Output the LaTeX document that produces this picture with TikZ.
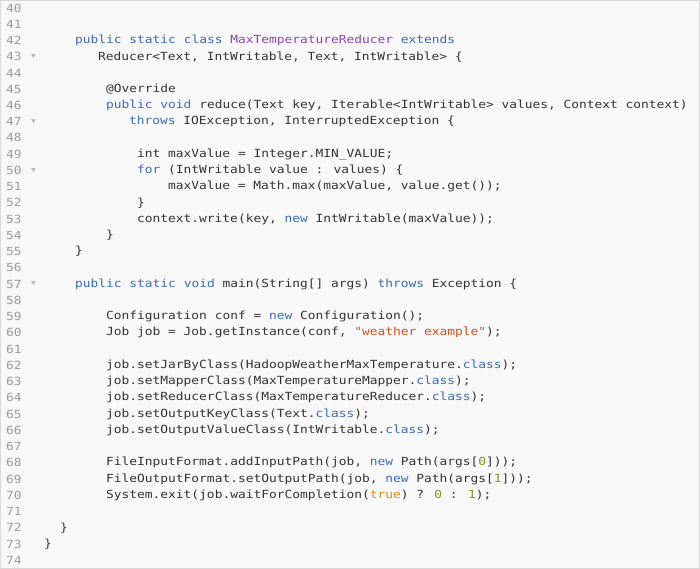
\documentclass[tikz,border=0pt]{standalone}
\usepackage{fontspec}
\newfontfamily\codefont[FakeStretch=1.15]{DejaVu Sans Mono}
\definecolor{bgc}{HTML}{F8F8F8}
\definecolor{bdc}{HTML}{D8D8D8}
\definecolor{numc}{HTML}{9A9A9A}
\definecolor{txtc}{HTML}{333333}
\definecolor{kwc}{HTML}{3A6BB5}
\definecolor{clc}{HTML}{8E44AD}
\definecolor{strc}{HTML}{D1501E}
\definecolor{boolc}{HTML}{E0861A}
\definecolor{digc}{HTML}{7E9A1C}
\newcommand{\kw}[1]{\textcolor{kwc}{#1}}
\newcommand{\clsn}[1]{\textcolor{clc}{#1}}
\newcommand{\strl}[1]{\textcolor{strc}{#1}}
\newcommand{\bool}[1]{\textcolor{boolc}{#1}}
\newcommand{\dig}[1]{\textcolor{digc}{#1}}
\begin{document}
\begin{tikzpicture}[x=1bp,y=-1bp,
  ln/.style={anchor=west,inner sep=0,text=numc,font=\codefont\fontsize{11.2bp}{13bp}\selectfont},
  cd/.style={anchor=west,inner sep=0,text=txtc,font=\codefont\fontsize{11.2bp}{13bp}\selectfont},
  fold/.style={anchor=west,inner sep=0,text=numc!70,font=\fontsize{7bp}{8bp}\selectfont\codefont}]
\fill[bgc,draw=bdc] (0.5,0.5) rectangle (699.5,568.5);
\useasboundingbox (0,0) rectangle (700,569);
\foreach \n in {40,...,74} {
  \node[ln] (n\n) at (6,{8+(\n-40)*16.24}) {\n};
}
\foreach \n in {43,47,50,57} {
  \node[fold] (f\n) at (31,{8+(\n-40)*16.24}) {\symbol{"25BC}};
}
\newcommand{\cl}[3]{\node[cd] (c#1) at (#2,{8+(#1-40)*16.24}) {#3};}
\cl{42}{75}{\kw{public static class} \clsn{MaxTemperatureReducer} \kw{extends}}
\cl{43}{98}{Reducer<Text, IntWritable, Text, IntWritable> \{}
\cl{45}{106}{@Override}
\cl{46}{106}{\kw{public void} reduce(Text key, Iterable<IntWritable> values, Context context)}
\cl{47}{129}{\kw{throws} IOException, InterruptedException \{}
\cl{49}{137}{int maxValue = Integer.MIN\_VALUE;}
\cl{50}{137}{\kw{for} (IntWritable value : values) \{}
\cl{51}{168}{maxValue = Math.max(maxValue, value.get());}
\cl{52}{137}{\}}
\cl{53}{137}{context.write(key, \kw{new} IntWritable(maxValue));}
\cl{54}{106}{\}}
\cl{55}{75}{\}}
\cl{57}{75}{\kw{public static void} main(String[] args) \kw{throws} Exception \{}
\cl{59}{106}{Configuration conf = \kw{new} Configuration();}
\cl{60}{106}{Job job = Job.getInstance(conf, \strl{"weather example"});}
\cl{62}{106}{job.setJarByClass(HadoopWeatherMaxTemperature.\kw{class});}
\cl{63}{106}{job.setMapperClass(MaxTemperatureMapper.\kw{class});}
\cl{64}{106}{job.setReducerClass(MaxTemperatureReducer.\kw{class});}
\cl{65}{106}{job.setOutputKeyClass(Text.\kw{class});}
\cl{66}{106}{job.setOutputValueClass(IntWritable.\kw{class});}
\cl{68}{106}{FileInputFormat.addInputPath(job, \kw{new} Path(args[\dig{0}]));}
\cl{69}{106}{FileOutputFormat.setOutputPath(job, \kw{new} Path(args[\dig{1}]));}
\cl{70}{106}{System.exit(job.waitForCompletion(\bool{true}) ? \dig{0} : \dig{1});}
\cl{72}{60}{\}}
\cl{73}{44}{\}}
\end{tikzpicture}
\end{document}
